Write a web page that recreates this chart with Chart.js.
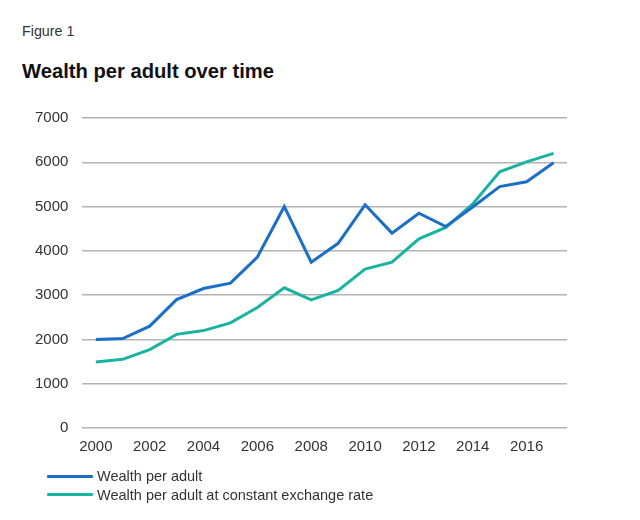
<!DOCTYPE html>
<html>
<head>
<meta charset="utf-8">
<script src="https://cdn.jsdelivr.net/npm/chart.js@4/dist/chart.umd.min.js"></script>
<style>
  html, body { margin: 0; padding: 0; background: #fff; }
  body { width: 640px; height: 520px; position: relative; overflow: hidden; font-family: "Liberation Sans", Arial, sans-serif; }
  #fig { position: absolute; left: 22px; top: 23px; font-size: 14.3px; color: #333; }
  #title { position: absolute; left: 22px; top: 60px; font-size: 20.2px; font-weight: bold; color: #111; }
  #wrap { position: absolute; left: 0; top: 0; width: 640px; height: 520px; }
  #legend { position: absolute; left: 47px; top: 467px; font-size: 14.5px; color: #333; }
  .item { display: flex; align-items: center; height: 18.5px; }
  .swatch { width: 46px; height: 3px; margin-right: 4px; border-radius: 1px; }
</style>
</head>
<body>
<div id="fig">Figure 1</div>
<div id="title">Wealth per adult over time</div>
<div id="wrap"><canvas id="c" width="640" height="520"></canvas></div>
<div id="legend"></div>
<script>
const years = ["2000","2001","2002","2003","2004","2005","2006","2007","2008","2009","2010","2011","2012","2013","2014","2015","2016","2017"];
const wealthPerAdult = [2000, 2020, 2300, 2900, 3150, 3270, 3860, 5000, 3745, 4170, 5040, 4400, 4850, 4550, 4990, 5450, 5560, 5990];
const wealthConstantFx = [1490, 1550, 1770, 2115, 2200, 2375, 2720, 3165, 2895, 3105, 3590, 3745, 4270, 4530, 5060, 5785, 6010, 6200];
const seriesLabels = ["Wealth per adult", "Wealth per adult at constant exchange rate"];
const seriesColors = ["#1b6fc6", "#19b3a2"];
const yTicks = [0, 1000, 2000, 3000, 4000, 5000, 6000, 7000];

const datasets = [wealthPerAdult, wealthConstantFx].map((d, i) => ({
  label: seriesLabels[i],
  data: d,
  borderColor: seriesColors[i],
  backgroundColor: seriesColors[i],
  borderWidth: 3,
  pointRadius: 0,
  tension: 0,
  fill: false
}));

new Chart(document.getElementById('c'), {
  type: 'line',
  data: { labels: years, datasets },
  options: {
    responsive: false,
    animation: false,
    devicePixelRatio: 1,
    layout: { padding: { left: 21, right: 73, top: 118, bottom: 54 } },
    plugins: { legend: { display: false }, tooltip: { enabled: false } },
    scales: {
      x: {
        type: 'category',
        offset: true,
        border: { display: false },
        grid: { display: false, drawTicks: false },
        ticks: {
          autoSkip: false,
          maxRotation: 0,
          padding: 10,
          color: '#333',
          font: { family: '"Liberation Sans", Arial, sans-serif', size: 15 },
          callback: function(v, i) { return i % 2 === 0 ? years[i] : ''; }
        }
      },
      y: {
        min: 0, max: 7000,
        afterBuildTicks: (axis) => { axis.ticks = yTicks.map(v => ({ value: v })); },
        border: { display: false },
        grid: { color: '#b4b4b4', lineWidth: 1.5, drawTicks: false },
        ticks: {
          padding: 14,
          color: '#333',
          font: { family: '"Liberation Sans", Arial, sans-serif', size: 15 },
          callback: (v) => String(v)
        }
      }
    }
  }
});

const leg = document.getElementById('legend');
seriesLabels.forEach((l, i) => {
  const it = document.createElement('div');
  it.className = 'item';
  const sw = document.createElement('span');
  sw.className = 'swatch';
  sw.style.background = seriesColors[i];
  const tx = document.createElement('span');
  tx.textContent = l;
  it.appendChild(sw); it.appendChild(tx);
  leg.appendChild(it);
});
</script>
</body>
</html>
